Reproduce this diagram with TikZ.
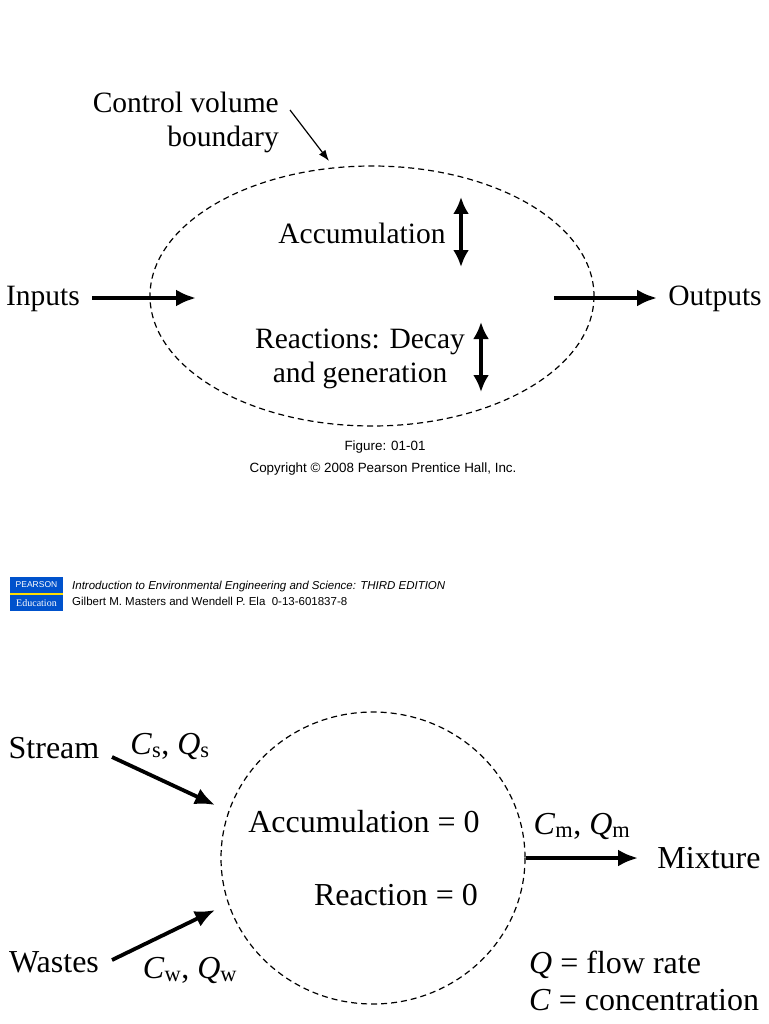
\documentclass[tikz,border=0pt]{standalone}
\usepackage{fontspec}
\setmainfont{Liberation Serif}
\newfontfamily\sansf{Liberation Sans}
\usetikzlibrary{arrows.meta}
\begin{document}
\begin{tikzpicture}[x=1pt,y=-1pt,
  big/.style={font=\fontsize{29.5}{34}\selectfont, inner sep=0pt},
  bigb/.style={font=\fontsize{32}{36}\selectfont, inner sep=0pt},
  small/.style={font=\sansf\fontsize{13.4}{14}\selectfont, inner sep=0pt},
  tiny/.style={font=\sansf\fontsize{11.5}{12}\selectfont, inner sep=0pt, anchor=west},
  flow/.style={line width=3.8pt, -{Latex[length=20pt,width=17pt]}},
  dbl/.style={line width=3.8pt, {Latex[length=17pt,width=16pt]}-{Latex[length=17pt,width=16pt]}},
  bnd/.style={line width=1.2pt, dash pattern=on 6pt off 4pt}]
\useasboundingbox (0,0) rectangle (768,1024);
% top diagram
\draw[bnd] (372,296) ellipse [x radius=222, y radius=130];
\node[big, align=right, anchor=east] (cv) at (279,122) {Control volume\\boundary};
\coordinate (cva) at (290,110);
\coordinate (cvb) at (329,161);
\draw[line width=1.2pt, -{Latex[length=11pt,width=8pt]}] (cva) -- (cvb);
\node[big] (acc) at (362,233) {Accumulation};
\coordinate (a1) at (461,197); \coordinate (a2) at (461,267);
\draw[dbl] (a1) -- (a2);
\node[big] (in) at (43,299) {Inputs};
\coordinate (is) at (92,298);
\coordinate (ie) at (196,298);
\draw[flow] (is) -- (ie);
\node[big] (out) at (715,299) {Outputs};
\coordinate (os) at (554,298);
\coordinate (oe) at (657,298);
\draw[flow] (os) -- (oe);
\node[big, align=center] (rx) at (360,359) {Reactions: Decay\\and generation};
\coordinate (r1) at (481,322); \coordinate (r2) at (481,392);
\draw[dbl] (r1) -- (r2);
\node[small] (fig) at (385,447) {Figure: 01-01};
\node[small] (cp) at (383,469) {Copyright \textcopyright\ 2008 Pearson Prentice Hall, Inc.};
% logo
\fill[blue!60!cyan!80!black] (10,577) rectangle (63,611);
\fill[yellow!80!orange] (10,593) rectangle (63,595);
\node[font=\sansf\fontsize{8.5}{9}\selectfont, text=white, inner sep=0pt] (lp) at (36.5,585) {PEARSON};
\node[font=\fontsize{10}{10}\selectfont, text=white, inner sep=0pt] (le) at (36.5,603) {Education};
\node[tiny] (t1) at (72,587) {\itshape Introduction to Environmental Engineering and Science: THIRD EDITION};
\node[tiny] (t2) at (72,601) {Gilbert M. Masters and Wendell P. Ela\ \ 0-13-601837-8};
% bottom diagram
\draw[bnd] (373,858) ellipse [x radius=152, y radius=146];
\node[bigb] (st) at (54,748) {Stream};
\node[bigb] (cs) at (170,746) {\textit{C}\textsubscript{s}, \textit{Q}\textsubscript{s}};
\coordinate (s1) at (112,757); \coordinate (s2) at (215,805);
\draw[flow] (s1) -- (s2);
\node[bigb] (ac) at (364,822) {Accumulation = 0};
\node[bigb] (re) at (396,895) {Reaction = 0};
\coordinate (m1) at (526,858); \coordinate (m2) at (638,858);
\draw[flow] (m1) -- (m2);
\node[bigb] (cm) at (582,826) {\textit{C}\textsubscript{m}, \textit{Q}\textsubscript{m}};
\node[bigb] (mx) at (709,858) {Mixture};
\node[bigb] (ws) at (54,962) {Wastes};
\node[bigb] (cw) at (190,970) {\textit{C}\textsubscript{w}, \textit{Q}\textsubscript{w}};
\coordinate (w1) at (112,960); \coordinate (w2) at (215,910);
\draw[flow] (w1) -- (w2);
\node[bigb, anchor=west] (q) at (529,965) {\textit{Q} = flow rate};
\node[bigb, anchor=west] (c) at (529,1000) {\textit{C} = concentration};
\end{tikzpicture}
\end{document}
